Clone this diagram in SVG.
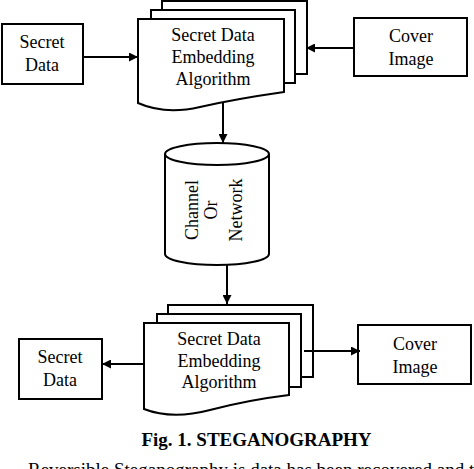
<svg xmlns="http://www.w3.org/2000/svg" width="474" height="469" viewBox="0 0 474 469">
<defs>
<marker id="ah" viewBox="0 0 10 10" refX="10" refY="5" markerWidth="10" markerHeight="9" markerUnits="userSpaceOnUse" orient="auto">
<path d="M0,0 L10,5 L0,10 Z" fill="#000"/>
</marker>
<style>
.s{fill:#fff;stroke:#000;stroke-width:2}
.t{font-family:"Liberation Serif","Times New Roman",serif;font-size:18px;fill:#000;text-anchor:middle}
.c{stroke:#000;stroke-width:2;fill:none}
</style>
</defs>
<rect width="474" height="469" fill="#fff"/>
<g id="secret-data-top">
<rect class="s" x="2" y="24" width="81" height="60"/>
<text class="t" x="42" y="48">Secret</text>
<text class="t" x="42" y="71">Data</text>
</g>
<g id="cover-image-top">
<rect class="s" x="354" y="18" width="113" height="58"/>
<text class="t" x="411" y="42">Cover</text>
<text class="t" x="411" y="65">Image</text>
</g>
<g id="embed-top">
<rect class="s" x="162" y="1" width="145" height="73"/>
<rect class="s" x="151" y="10" width="144" height="73"/>
<path class="s" d="M138,19 H284 V92 Q235,99 200,107 Q165,115 138,103 Z"/>
<text class="t" x="213" y="41">Secret Data</text>
<text class="t" x="213" y="63">Embedding</text>
<text class="t" x="213" y="85">Algorithm</text>
</g>
<g id="channel">
<path class="s" d="M165,154 V254 A52,11 0 0 0 269,254 V154"/>
<ellipse class="s" cx="217" cy="154" rx="52" ry="11"/>
<text class="t" transform="translate(198,210) rotate(-90)">Channel</text>
<text class="t" transform="translate(217,210) rotate(-90)">Or</text>
<text class="t" transform="translate(242,210) rotate(-90)">Network</text>
</g>
<g id="embed-bottom">
<rect class="s" x="168" y="305" width="145" height="72"/>
<rect class="s" x="157" y="314" width="144" height="73"/>
<path class="s" d="M144,323 H289 V395 Q248,400 210,410 Q172,420 144,409 Z"/>
<text class="t" x="219" y="345">Secret Data</text>
<text class="t" x="219" y="367">Embedding</text>
<text class="t" x="219" y="388">Algorithm</text>
</g>
<g id="secret-data-bottom">
<rect class="s" x="19" y="339" width="83" height="60"/>
<text class="t" x="60" y="363">Secret</text>
<text class="t" x="60" y="386">Data</text>
</g>
<g id="cover-image-bottom">
<rect class="s" x="358" y="325" width="113" height="59"/>
<text class="t" x="415" y="350">Cover</text>
<text class="t" x="415" y="373">Image</text>
</g>
<g id="connectors">
<line class="c" x1="83" y1="57" x2="138" y2="57" marker-end="url(#ah)"/>
<line class="c" x1="354" y1="48" x2="306" y2="48" marker-end="url(#ah)"/>
<line class="c" x1="223" y1="102" x2="223" y2="143" marker-end="url(#ah)"/>
<line class="c" x1="227" y1="265" x2="227" y2="304" marker-end="url(#ah)"/>
<line class="c" x1="144" y1="364" x2="102" y2="364" marker-end="url(#ah)"/>
<line class="c" x1="304" y1="351" x2="360" y2="351" marker-end="url(#ah)"/>
</g>
<text x="256.5" y="446" style="font-family:'Liberation Serif','Times New Roman',serif;font-size:19px;font-weight:bold;text-anchor:middle">Fig. 1. STEGANOGRAPHY</text>
<text x="28" y="476" style="font-family:'Liberation Serif','Times New Roman',serif;font-size:19px">Reversible Steganography is data has been recovered and the</text>
</svg>
